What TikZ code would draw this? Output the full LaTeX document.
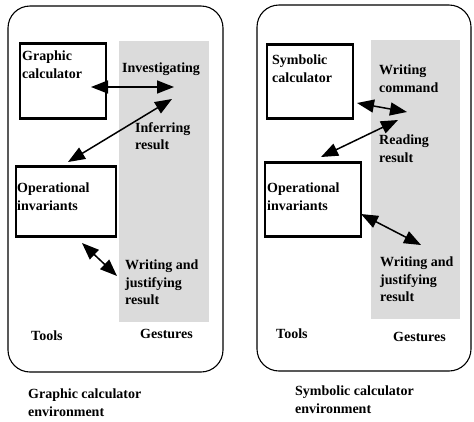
\documentclass[tikz,border=0pt]{standalone}
\usepackage{fontspec}
\setmainfont{Liberation Serif}
\usetikzlibrary{positioning}
\usetikzlibrary{arrows.meta}

\begin{document}
\begin{tikzpicture}[x=1pt,y=-1pt,
        panel/.style={draw, line width=1.1pt, rounded corners=22pt},
        gesture/.style={fill=black!14, draw=none},
        toolbox/.style={draw, line width=2.6pt, inner sep=0pt, anchor=north west},
        lbl/.style={font=\bfseries\fontsize{14}{17.5}\selectfont, align=left,
            anchor=north west, inner sep=0pt},
        twoway/.style={{Triangle[length=17pt,width=13pt]}-{Triangle[length=17pt,width=13pt]},
            line width=1.5pt},]

    \useasboundingbox (0,0) rectangle (474,421);

    % graphic calculator environment
    \draw[panel] (8,6) rectangle (223,372);
    \fill[gesture] (119,41) rectangle (209,322);
    \node[toolbox, minimum width=86pt, minimum height=75pt] (gcbox) at (18.5,42) {};
    \node[toolbox, minimum width=100pt, minimum height=70pt] (oibox) at (14.5,165) {};
    \node[lbl] (gc) at (22,51) {Graphic\\calculator};
    \node[lbl] (inv) at (122,63) {Investigating};
    \node[lbl] (inf) at (135,122) {Inferring\\result};
    \node[lbl] (oi) at (17,183) {Operational\\invariants};
    \node[lbl] (wj) at (125,260) {Writing and\\justifying\\result};
    \node[lbl] (tools) at (31,331) {Tools};
    \node[lbl] (gest) at (140,329) {Gestures};
    \node[lbl] (gcenv) at (28,389) {Graphic calculator\\environment};
    \coordinate (gc-e) at (91,87);
    \coordinate (inv-w) at (174,87);
    \coordinate (inf-n) at (172,99);
    \coordinate (oi-n) at (68,162);
    \coordinate (oi-se) at (82,243);
    \coordinate (wj-nw) at (117,276);
    \draw[twoway] (gc-e) -- (inv-w);
    \draw[twoway] (inf-n) -- (oi-n);
    \draw[twoway] (oi-se) -- (wj-nw);

    % symbolic calculator environment
    \draw[panel] (257,5) rectangle (471,371);
    \fill[gesture] (371,40) rectangle (460,319);
    \node[toolbox, minimum width=86pt, minimum height=74pt] (scbox) at (265.5,43) {};
    \node[toolbox, minimum width=96pt, minimum height=74pt] (soibox) at (263.5,161) {};
    \node[lbl] (sc) at (272,55) {Symbolic\\calculator};
    \node[lbl] (wc) at (379,65) {Writing\\command};
    \node[lbl] (rr) at (379,135) {Reading\\result};
    \node[lbl] (soi) at (267,183) {Operational\\invariants};
    \node[lbl] (swj) at (380,257) {Writing and\\justifying\\result};
    \node[lbl] (stools) at (276,329) {Tools};
    \node[lbl] (sgest) at (393,332) {Gestures};
    \node[lbl] (scenv) at (295,386) {Symbolic calculator\\environment};
    \coordinate (sc-e) at (357,103);
    \coordinate (wc-s) at (407,112);
    \coordinate (rr-n) at (398,120);
    \coordinate (soi-n) at (321,157);
    \coordinate (soi-e) at (361,214);
    \coordinate (swj-n) at (421,245);
    \draw[twoway] (sc-e) -- (wc-s);
    \draw[twoway] (rr-n) -- (soi-n);
    \draw[twoway] (soi-e) -- (swj-n);
\end{tikzpicture}
\end{document}
